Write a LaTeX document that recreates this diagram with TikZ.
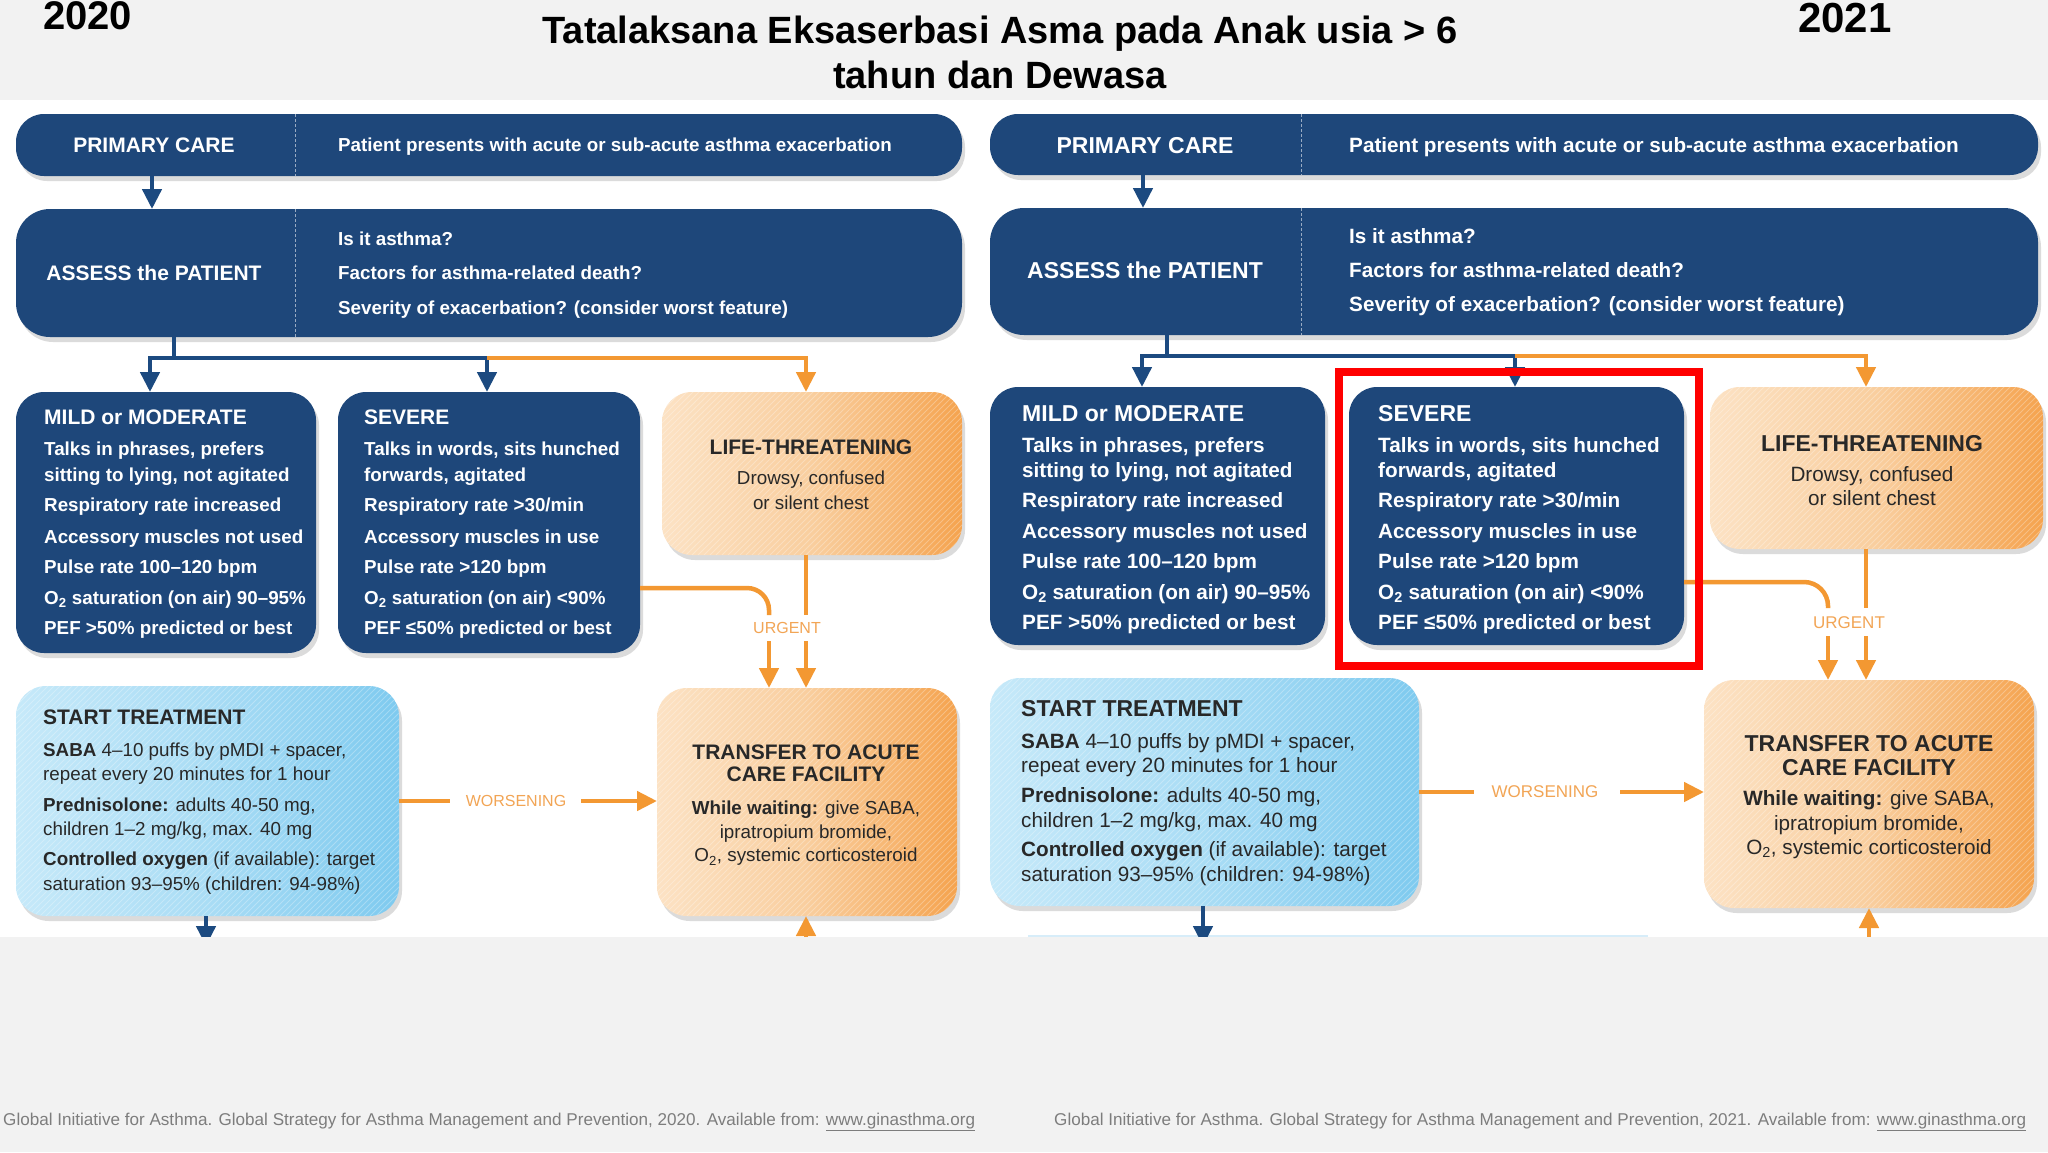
\documentclass[tikz,border=0pt]{standalone}
\usepackage{fontspec}
\setmainfont{Liberation Sans}
\usetikzlibrary{arrows.meta,shadows}
\definecolor{navy}{RGB}{30,71,122}
\definecolor{navyline}{RGB}{28,74,128}
\definecolor{orln}{RGB}{243,152,50}
\definecolor{orlab}{RGB}{242,165,85}
\definecolor{peachL}{RGB}{252,226,196}
\definecolor{peachM}{RGB}{249,206,158}
\definecolor{peachR}{RGB}{245,163,78}
\definecolor{skyL}{RGB}{198,233,249}
\definecolor{skyR}{RGB}{126,202,239}
\definecolor{darktxt}{RGB}{40,40,40}
\definecolor{bggray}{RGB}{242,242,242}
\definecolor{foottxt}{RGB}{125,125,125}
\definecolor{stripblue}{RGB}{215,237,249}

\newcommand\sidestyles[5]{\tikzset{
  wt/.style={text=white, font=\bfseries\fontsize{#1}{#1}\selectfont, inner sep=0pt, text height=#2pt, text depth=0pt},
  wth/.style={text=white, font=\bfseries\fontsize{#3}{#3}\selectfont, inner sep=0pt, text height=#4pt, text depth=0pt},
  dt/.style={text=darktxt, font=\fontsize{#1}{#1}\selectfont, inner sep=0pt, text height=#2pt, text depth=0pt},
  dth/.style={text=darktxt, font=\bfseries\fontsize{#3}{#3}\selectfont, inner sep=0pt, text height=#4pt, text depth=0pt},
  lbl/.style={text=orlab, font=\fontsize{#5}{#5}\selectfont, inner sep=0pt}}}
\newcommand\txtlines[5]{\foreach \yy/\tx [count=\ii] in {#5}{\node[#1,anchor=#4] (#2\ii) at (#3,\yy) {\tx};}}
\newcommand\hatchbox[2]{\begin{scope}
  \clip[rounded corners=#2] (#1.north west) rectangle (#1.south east);
  \foreach \k in {-40,...,75}{\draw[hatchln] (#1.south west) ++(\k*6,0) -- ++(300,-300);}
  \end{scope}}

\tikzset{
  shad/.style={drop shadow={shadow xshift=3pt,shadow yshift=-5pt,opacity=0.28}},
  navybox/.style={fill=navy, inner sep=0pt, outer sep=0pt, anchor=north west, shad},
  hatchln/.style={draw=white, line width=0.9pt, opacity=0.28},
  orbox/.style={inner sep=0pt, outer sep=0pt, anchor=north west, shad, left color=peachL, right color=peachR, middle color=peachM},
  skybox/.style={inner sep=0pt, outer sep=0pt, anchor=north west, shad, left color=skyL, right color=skyR, middle color=skyL!60!skyR},
  divider/.style={draw=white!55!navy, line width=1pt, dash pattern=on 3pt off 2pt},
  bl/.style={draw=navyline, line width=4.5pt},
  bla/.style={bl, -{Triangle[width=19pt,length=20pt]}},
  ol/.style={draw=orln, line width=4.5pt},
  ola/.style={ol, -{Triangle[width=19pt,length=20pt]}},
  foot/.style={text=foottxt, font=\fontsize{17.1}{18}\selectfont, inner sep=0pt, anchor=west},
  yr/.style={text=black, font=\bfseries\fontsize{40}{40}\selectfont, inner sep=0pt, anchor=base west},
  ttl/.style={text=black, font=\bfseries\fontsize{38}{38}\selectfont, inner sep=0pt, text height=27pt, text depth=0pt}
}

\begin{document}
\begin{tikzpicture}[x=1pt,y=-1pt]
\useasboundingbox (0,0) rectangle (2048,1152);
\fill[bggray] (0,0) rectangle (2048,1152);
\fill[white] (0,100) rectangle (2048,937);

% ================= LEFT (2020) =================
\begin{scope}
\sidestyles{18.8}{13.5}{21}{15}{16}
\node[navybox, rounded corners=28pt, minimum width=946pt, minimum height=62pt] (Lprim) at (16,114) {};
\node[navybox, rounded corners=34pt, minimum width=946pt, minimum height=128pt] (Lass) at (16,209) {};
\node[navybox, rounded corners=28pt, minimum width=300pt, minimum height=261pt] (Lmild) at (16,392) {};
\node[navybox, rounded corners=28pt, minimum width=302pt, minimum height=261pt] (Lsev) at (338,392) {};
\node[orbox, rounded corners=30pt, minimum width=300pt, minimum height=163pt] (Llife) at (662,392) {};
\node[skybox, rounded corners=30pt, minimum width=383pt, minimum height=230pt] (Lstart) at (16,686) {};
\node[orbox, rounded corners=30pt, minimum width=300pt, minimum height=228pt] (Ltrans) at (657,688) {};
\hatchbox{Llife}{30pt}
\hatchbox{Lstart}{30pt}
\hatchbox{Ltrans}{30pt}

\draw[divider] (295,0 |- Lprim.north) -- (295,0 |- Lprim.south);
\draw[divider] (295,0 |- Lass.north) -- (295,0 |- Lass.south);

\node[wth] (LprimT) at (154,145) {PRIMARY CARE};
\node[wt, anchor=west] (LprimD) at (338,145) {Patient presents with acute or sub-acute asthma exacerbation};
\node[wth] (LassT) at (154,273) {ASSESS the PATIENT};
\txtlines{wt}{LassL}{338}{west}{239/{Is it asthma?}, 273/{Factors for asthma-related death?}, 308/{Severity of exacerbation? (consider worst feature)}}

\node[wth, anchor=west] (LmildT) at (44,417) {MILD or MODERATE};
\txtlines{wt}{LmildL}{44}{west}{449/{Talks in phrases, prefers}, 475/{sitting to lying, not agitated}, 505/{Respiratory rate increased}, 537/{Accessory muscles not used}, 567/{Pulse rate 100–120 bpm}, 598/{O\textsubscript{2} saturation (on air) 90–95\%}, 628/{PEF >50\% predicted or best}}

\node[wth, anchor=west] (LsevT) at (364,417) {SEVERE};
\txtlines{wt}{LsevL}{364}{west}{449/{Talks in words, sits hunched}, 475/{forwards, agitated}, 505/{Respiratory rate >30/min}, 537/{Accessory muscles in use}, 567/{Pulse rate >120 bpm}, 598/{O\textsubscript{2} saturation (on air) <90\%}, 628/{PEF ≤50\% predicted or best}}

\node[dth] (LlifeT) at (811,447) {LIFE-THREATENING};
\txtlines{dt}{LlifeL}{811}{center}{478/{Drowsy, confused}, 503/{or silent chest}}

\node[dth, anchor=west] (LstartT) at (43,717) {START TREATMENT};
\txtlines{dt}{LstartL}{43}{west}{750/{\textbf{SABA} 4–10 puffs by pMDI + spacer,}, 774/{repeat every 20 minutes for 1 hour}, 805/{\textbf{Prednisolone:} adults 40-50 mg,}, 829/{children 1–2 mg/kg, max. 40 mg}, 859/{\textbf{Controlled oxygen} (if available): target}, 884/{saturation 93–95\% (children: 94-98\%)}}

\node[dth] (LtransT1) at (806,752) {TRANSFER TO ACUTE};
\node[dth] (LtransT2) at (806,774) {CARE FACILITY};
\txtlines{dt}{LtransL}{806}{center}{808/{\textbf{While waiting:} give SABA,}, 832/{ipratropium bromide,}, 855/{O\textsubscript{2}, systemic corticosteroid}}

% connectors
\coordinate (Ljn) at (174,358);
\coordinate (Lsplit) at (487,358);
\draw[bla] (152,0 |- Lprim.south) -- (152,0 |- Lass.north);
\draw[bl] (Ljn |- Lass.south) -- (Ljn);
\draw[bla] (Lsplit) -- (150,358) -- (150,0 |- Lmild.north);
\draw[bla] (Lsplit) -- (Lsplit |- Lsev.north);
\draw[ola] (Lsplit) -- (806,358) -- (806,0 |- Llife.north);
\draw[ol, rounded corners=22pt] (Lsev.east) ++(0,65.5) -- (769,588) -- (769,615);
\node[lbl] (LurgT) at (787,628) {URGENT};
\coordinate (LurgA) at (769,641);
\coordinate (LurgB) at (806,641);
\draw[ol] (806,0 |- Llife.south) -- (806,615);
\draw[ola] (LurgA) -- (LurgA |- Ltrans.north);
\draw[ola] (LurgB) -- (LurgB |- Ltrans.north);
\node[lbl] (LworsT) at (516,801) {WORSENING};
\draw[ol] (Lstart.east |- LworsT) -- (450,0 |- LworsT);
\draw[ola] (581,0 |- LworsT) -- (Ltrans.west |- LworsT);
\draw[bla] (206,0 |- Lstart.south) -- (206,946);
\draw[ola] (806,945) -- (806,0 |- Ltrans.south);
\end{scope}

% ================= RIGHT (2021) =================
\begin{scope}
\sidestyles{20.7}{14.9}{23}{16.5}{17}
\node[navybox, rounded corners=28pt, minimum width=1048pt, minimum height=61pt] (Rprim) at (990,114) {};
\node[navybox, rounded corners=34pt, minimum width=1048pt, minimum height=127pt] (Rass) at (990,208) {};
\node[navybox, rounded corners=28pt, minimum width=335pt, minimum height=258pt] (Rmild) at (990,387) {};
\node[navybox, rounded corners=28pt, minimum width=335pt, minimum height=258pt] (Rsev) at (1349,387) {};
\node[orbox, rounded corners=30pt, minimum width=333pt, minimum height=162pt] (Rlife) at (1710,387) {};
\node[skybox, rounded corners=30pt, minimum width=429pt, minimum height=228pt] (Rstart) at (990,678) {};
\node[orbox, rounded corners=30pt, minimum width=330pt, minimum height=228pt] (Rtrans) at (1704,680) {};
\hatchbox{Rlife}{30pt}
\hatchbox{Rstart}{30pt}
\hatchbox{Rtrans}{30pt}
\fill[stripblue] (1028,934.5) rectangle (1648,937);

\draw[divider] (1301,0 |- Rprim.north) -- (1301,0 |- Rprim.south);
\draw[divider] (1301,0 |- Rass.north) -- (1301,0 |- Rass.south);

\node[wth] (RprimT) at (1145,145) {PRIMARY CARE};
\node[wt, anchor=west] (RprimD) at (1349,145) {Patient presents with acute or sub-acute asthma exacerbation};
\node[wth] (RassT) at (1145,270) {ASSESS the PATIENT};
\txtlines{wt}{RassL}{1349}{west}{236/{Is it asthma?}, 270/{Factors for asthma-related death?}, 304/{Severity of exacerbation? (consider worst feature)}}

\node[wth, anchor=west] (RmildT) at (1022,413) {MILD or MODERATE};
\txtlines{wt}{RmildL}{1022}{west}{445/{Talks in phrases, prefers}, 470/{sitting to lying, not agitated}, 500/{Respiratory rate increased}, 531/{Accessory muscles not used}, 561/{Pulse rate 100–120 bpm}, 592/{O\textsubscript{2} saturation (on air) 90–95\%}, 622/{PEF >50\% predicted or best}}

\node[wth, anchor=west] (RsevT) at (1378,413) {SEVERE};
\txtlines{wt}{RsevL}{1378}{west}{445/{Talks in words, sits hunched}, 470/{forwards, agitated}, 500/{Respiratory rate >30/min}, 531/{Accessory muscles in use}, 561/{Pulse rate >120 bpm}, 592/{O\textsubscript{2} saturation (on air) <90\%}, 622/{PEF ≤50\% predicted or best}}

\node[dth] (RlifeT) at (1872,443) {LIFE-THREATENING};
\txtlines{dt}{RlifeL}{1872}{center}{474/{Drowsy, confused}, 498/{or silent chest}}

\node[dth, anchor=west] (RstartT) at (1021,708) {START TREATMENT};
\txtlines{dt}{RstartL}{1021}{west}{741/{\textbf{SABA} 4–10 puffs by pMDI + spacer,}, 765/{repeat every 20 minutes for 1 hour}, 795/{\textbf{Prednisolone:} adults 40-50 mg,}, 820/{children 1–2 mg/kg, max. 40 mg}, 849/{\textbf{Controlled oxygen} (if available): target}, 874/{saturation 93–95\% (children: 94-98\%)}}

\node[dth] (RtransT1) at (1869,743) {TRANSFER TO ACUTE};
\node[dth] (RtransT2) at (1869,767) {CARE FACILITY};
\txtlines{dt}{RtransL}{1869}{center}{798/{\textbf{While waiting:} give SABA,}, 823/{ipratropium bromide,}, 847/{O\textsubscript{2}, systemic corticosteroid}}

% connectors
\coordinate (Rjn) at (1167,356);
\coordinate (Rsplit) at (1515,356);
\draw[bla] (1143,0 |- Rprim.south) -- (1143,0 |- Rass.north);
\draw[bl] (Rjn |- Rass.south) -- (Rjn);
\draw[bla] (Rsplit) -- (1142,356) -- (1142,0 |- Rmild.north);
\draw[bla] (Rsplit) -- (Rsplit |- Rsev.north);
\draw[ola] (Rsplit) -- (1866,356) -- (1866,0 |- Rlife.north);
\draw[ol, rounded corners=24pt] (Rsev.east) ++(0,66) -- (1828,582) -- (1828,608);
\node[lbl] (RurgT) at (1849,623) {URGENT};
\coordinate (RurgA) at (1828,636);
\coordinate (RurgB) at (1866,636);
\draw[ol] (1866,0 |- Rlife.south) -- (1866,608);
\draw[ola] (RurgA) -- (RurgA |- Rtrans.north);
\draw[ola] (RurgB) -- (RurgB |- Rtrans.north);
\node[lbl] (RworsT) at (1545,792) {WORSENING};
\draw[ol] (Rstart.east |- RworsT) -- (1474,0 |- RworsT);
\draw[ola] (1620,0 |- RworsT) -- (Rtrans.west |- RworsT);
\draw[bla] (1203,0 |- Rstart.south) -- (1203,946);
\draw[ola] (1869,945) -- (1869,0 |- Rtrans.south);
\end{scope}

% bottom band (crops arrows)
\fill[bggray] (0,937) rectangle (2048,1152);

% titles
\node[yr] (y2020) at (43,29) {2020};
\node[yr, font=\bfseries\fontsize{42}{42}\selectfont] (y2021) at (1798,32) {2021};
\node[ttl] (title1) at (1000,30) {Tatalaksana Eksaserbasi Asma pada Anak usia > 6};
\node[ttl] (title2) at (1000,75) {tahun dan Dewasa};

% footers
\node[foot] (footL) at (3,1122) {Global Initiative for Asthma. Global Strategy for Asthma Management and Prevention, 2020. Available from: \underline{www.ginasthma.org}};
\node[foot] (footR) at (1054,1122) {Global Initiative for Asthma. Global Strategy for Asthma Management and Prevention, 2021. Available from: \underline{www.ginasthma.org}};

% highlight
\node[draw=red, line width=8pt, inner sep=0pt, outer sep=0pt, minimum width=360pt, minimum height=294pt, anchor=north west] (hl) at (1339,372) {};
\end{tikzpicture}
\end{document}
